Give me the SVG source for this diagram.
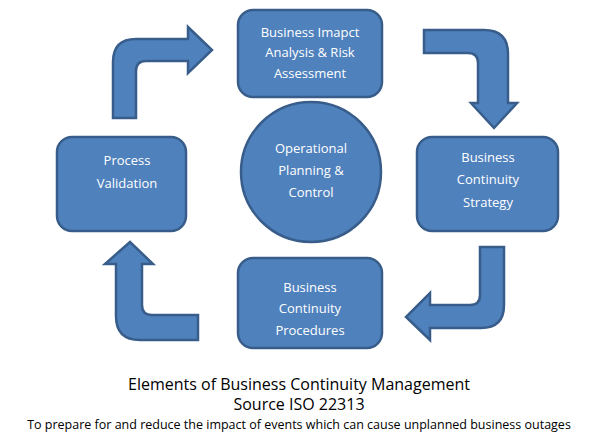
<svg xmlns="http://www.w3.org/2000/svg" width="606" height="445" viewBox="0 0 606 445">
<style>
.s{fill:#4f81bd;stroke:#385d8a;stroke-width:2.5}
.t{fill:#fff;font-family:"Open Sans","Liberation Sans",sans-serif;font-size:13px;text-anchor:middle}
.c{fill:#000;font-family:"Open Sans","Liberation Sans",sans-serif;text-anchor:middle}
</style>
<rect width="606" height="445" fill="#fff"/>
<g id="connectors">
<path class="s" d="M113,118 L113,62 Q113,39 136,39 L188,39 L188,27 L212,50 L188,73 L188,61 L146,61 Q136,61 136,71 L136,118 Z"/>
<path class="s" d="M424,30 L484,30 Q508,30 508,54 L508,103 L517,103 L494,128 L471,103 L478,103 L478,63 Q478,53 468,53 L424,53 Z"/>
<path class="s" d="M480,247 L504,247 L504,305 Q504,328 481,328 L430,328 L430,340 L406,317 L430,293 L430,305 L470,305 Q480,305 480,295 Z"/>
<path class="s" d="M198,315 L152,315 Q142,315 142,305 L142,264 L153,264 L130,242 L105,264 L116,264 L116,316 Q116,340 140,340 L198,340 Z"/>
</g>
<g id="bia"><rect class="s" x="238" y="10" width="144" height="87" rx="15"/>
<text class="t" x="310" y="37">Business Imapct</text><text class="t" x="310" y="57">Analysis &amp; Risk</text><text class="t" x="310" y="78">Assessment</text></g>
<g id="ops"><circle class="s" cx="311" cy="172" r="70"/>
<text class="t" x="311" y="153">Operational</text><text class="t" x="311" y="175">Planning &amp;</text><text class="t" x="311" y="197">Control</text></g>
<g id="validation"><rect class="s" x="57" y="137" width="129" height="94" rx="15"/>
<text class="t" x="127" y="165">Process</text><text class="t" x="127" y="188">Validation</text></g>
<g id="strategy"><rect class="s" x="417" y="137" width="141" height="94" rx="15"/>
<text class="t" x="488" y="162">Business</text><text class="t" x="488" y="184">Continuity</text><text class="t" x="488" y="207">Strategy</text></g>
<g id="procedures"><rect class="s" x="238" y="258" width="144" height="90" rx="15"/>
<text class="t" x="310" y="292">Business</text><text class="t" x="310" y="313">Continuity</text><text class="t" x="310" y="335">Procedures</text></g>
<text class="c" x="299" y="390" font-size="16">Elements of Business Continuity Management</text>
<text class="c" x="299" y="410" font-size="16">Source ISO 22313</text>
<text class="c" x="299" y="429" font-size="12.5">To prepare for and reduce the impact of events which can cause unplanned business outages</text>
</svg>
